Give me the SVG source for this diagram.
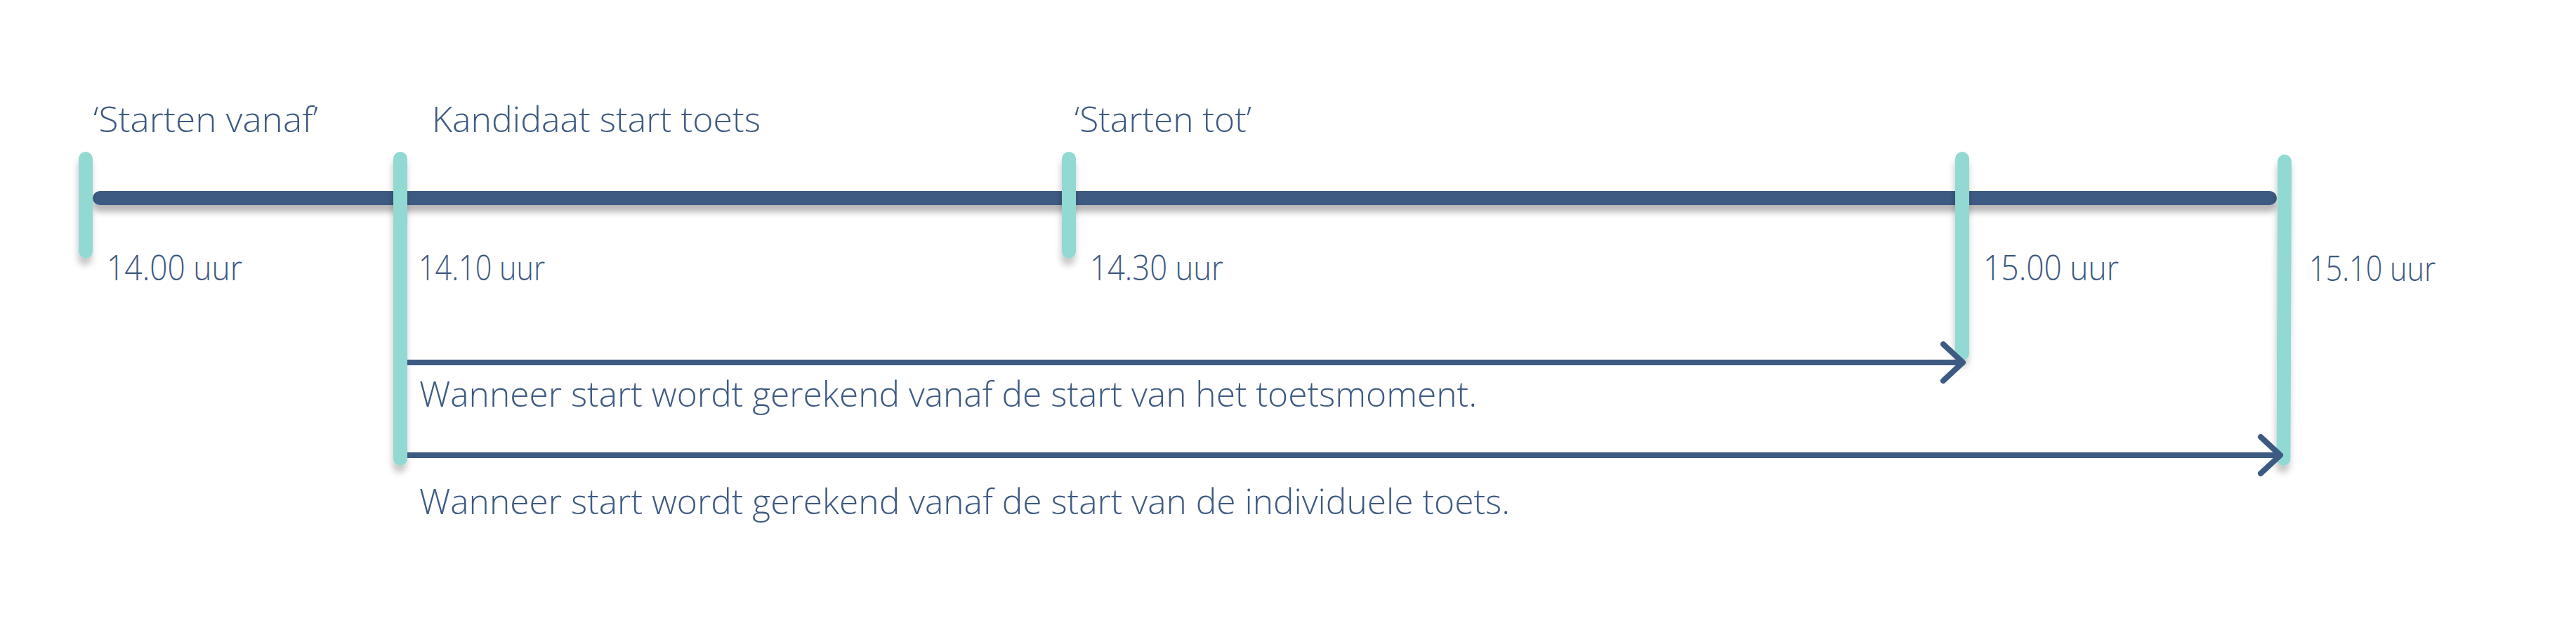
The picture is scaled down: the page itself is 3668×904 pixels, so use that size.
<svg xmlns="http://www.w3.org/2000/svg" width="3668" height="904" viewBox="0 0 3668 904">
  <style>
    .lbl { font-family: "Open Sans", "Noto Sans", "Liberation Sans", sans-serif; font-size: 49px; font-weight: 300; fill: #3d5a82; }
    .axis { stroke: #3d5a82; stroke-width: 20; stroke-linecap: round; fill: none; }
    .tick { stroke: #91d9d2; stroke-width: 20; stroke-linecap: round; fill: none; }
    .arrow { stroke: #3d5a82; stroke-width: 8; fill: none; }
  </style>
  <defs>
    <filter id="shadowAxis" filterUnits="userSpaceOnUse" x="0" y="0" width="3668" height="904">
      <feDropShadow dx="0" dy="10" stdDeviation="4" flood-color="#000" flood-opacity="0.28"/>
    </filter>
    <filter id="shadowTick" filterUnits="userSpaceOnUse" x="0" y="0" width="3668" height="904">
      <feDropShadow dx="-1" dy="10" stdDeviation="5" flood-color="#000" flood-opacity="0.22"/>
    </filter>
    <marker id="chev" markerUnits="userSpaceOnUse" viewBox="-40 -40 50 80" markerWidth="50" markerHeight="80" refX="0" refY="0" orient="auto" overflow="visible">
      <path d="M-28,-26 L0,0 L-28,26" stroke="#3d5a82" stroke-width="8" stroke-linecap="round" stroke-linejoin="round" fill="none"/>
    </marker>
  </defs>
  <rect x="0" y="0" width="3668" height="904" fill="#ffffff"/>

  <g id="timeline">
    <line class="axis" x1="142" y1="282" x2="3232" y2="282" filter="url(#shadowAxis)"/>
  </g>

  <g id="t1400">
    <line class="tick" x1="122" y1="226" x2="122" y2="358" filter="url(#shadowTick)"/>
    <text class="lbl" x="133" y="188" textLength="320" lengthAdjust="spacingAndGlyphs">‘Starten vanaf’</text>
    <text class="lbl" x="152" y="399" textLength="193" lengthAdjust="spacingAndGlyphs">14.00 uur</text>
  </g>

  <g id="t1410">
    <line class="tick" x1="570" y1="226" x2="570" y2="653" filter="url(#shadowTick)"/>
    <text class="lbl" x="615" y="188" textLength="468" lengthAdjust="spacingAndGlyphs">Kandidaat start toets</text>
    <text class="lbl" x="596" y="399" textLength="180" lengthAdjust="spacingAndGlyphs">14.10 uur</text>
  </g>

  <g id="t1430">
    <line class="tick" x1="1522" y1="226" x2="1522" y2="358" filter="url(#shadowTick)"/>
    <text class="lbl" x="1530" y="188" textLength="252" lengthAdjust="spacingAndGlyphs">‘Starten tot’</text>
    <text class="lbl" x="1552" y="399" textLength="190" lengthAdjust="spacingAndGlyphs">14.30 uur</text>
  </g>

  <g id="t1500">
    <line class="tick" x1="2794" y1="226" x2="2794" y2="503" filter="url(#shadowTick)"/>
    <text class="lbl" x="2824" y="399" textLength="193" lengthAdjust="spacingAndGlyphs">15.00 uur</text>
  </g>

  <g id="t1510">
    <line class="tick" x1="3253" y1="230" x2="3251.5" y2="653" filter="url(#shadowTick)"/>
    <text class="lbl" x="3288" y="400" textLength="180" lengthAdjust="spacingAndGlyphs">15.10 uur</text>
  </g>

  <g id="connectors">
    <line class="arrow" x1="580" y1="516" x2="2795" y2="516" marker-end="url(#chev)"/>
    <line class="arrow" x1="580" y1="648" x2="3247" y2="648" marker-end="url(#chev)"/>
  </g>

  <g id="label-toetsmoment">
    <text class="lbl" x="597" y="579" textLength="1506" lengthAdjust="spacingAndGlyphs">Wanneer start wordt gerekend vanaf de start van het toetsmoment.</text>
  </g>
  <g id="label-individueel">
    <text class="lbl" x="597" y="732" textLength="1553" lengthAdjust="spacingAndGlyphs">Wanneer start wordt gerekend vanaf de start van de individuele toets.</text>
  </g>
</svg>
